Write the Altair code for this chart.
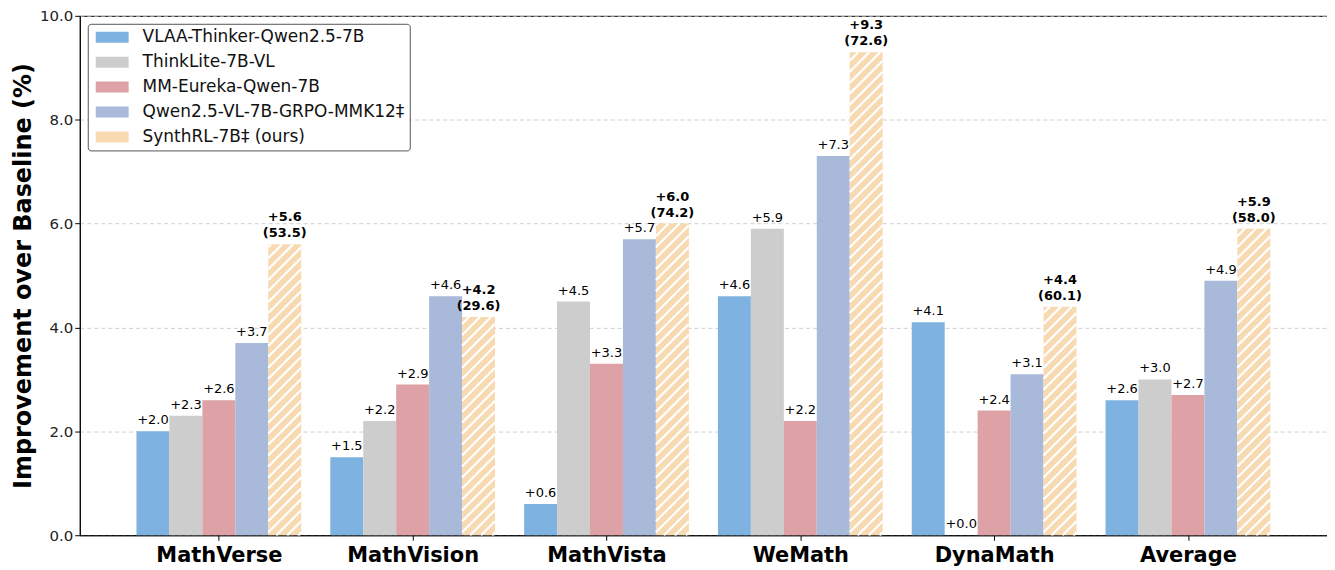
import json
import altair as alt
import pandas as pd

categories = ["MathVerse", "MathVision", "MathVista", "WeMath", "DynaMath", "Average"]
models = [
    "VLAA-Thinker-Qwen2.5-7B",
    "ThinkLite-7B-VL",
    "MM-Eureka-Qwen-7B",
    "Qwen2.5-VL-7B-GRPO-MMK12‡",
    "SynthRL-7B‡ (ours)",
]
vlaa = [2.0, 1.5, 0.6, 4.6, 4.1, 2.6]
thinklite = [2.3, 2.2, 4.5, 5.9, 0.0, 3.0]
eureka = [2.6, 2.9, 3.3, 2.2, 2.4, 2.7]
grpo = [3.7, 4.6, 5.7, 7.3, 3.1, 4.9]
synthrl = [5.6, 4.2, 6.0, 9.3, 4.4, 5.9]
synthrl_rel = [53.5, 29.6, 74.2, 72.6, 60.1, 58.0]
colors = ["#7eb3e1", "#cdcdcd", "#dea1a5", "#a8b9d9", "#f8dab2"]

series = [vlaa, thinklite, eureka, grpo, synthrl]
rows = []
for mj, (m, vals) in enumerate(zip(models, series)):
    for ci, c in enumerate(categories):
        rows.append({
            "cat": c, "ci": ci, "model": m, "mj": mj, "value": vals[ci],
            "rel": synthrl_rel[ci] if mj == 4 else None,
        })
df = pd.DataFrame(rows)

W, H = 1251, 521
BW = 0.17
XMIN, XMAX = -0.7175, 5.7175
SX = W / (XMAX - XMIN)   # px per x unit
SY = H / 10.0            # px per y unit
PERIOD = 11.0            # hatch spacing (px, horizontal)

xscale = alt.Scale(domain=[XMIN, XMAX], nice=False, zero=False)
yscale = alt.Scale(domain=[0, 10], nice=False)

base = alt.Chart(df).transform_calculate(
    xc=f"datum.ci + (datum.mj - 2) * {BW}",
    x0=f"datum.ci + (datum.mj - 2) * {BW} - {BW/2}",
    x1=f"datum.ci + (datum.mj - 2) * {BW} + {BW/2}",
    lab="'+' + format(datum.value, '.1f')",
    rlab="'(' + format(datum.rel, '.1f') + ')'",
)

label_expr = f"{json.dumps(categories)}[datum.value]"

bars = base.mark_bar(strokeWidth=0).encode(
    x=alt.X("x0:Q", scale=xscale, axis=alt.Axis(
        title=None, values=[0, 1, 2, 3, 4, 5], labelExpr=label_expr, grid=False,
        labelFontSize=21, labelFontWeight="bold", labelColor="black",
        tickColor="black", tickSize=5, domainColor="black", labelPadding=4)),
    x2="x1:Q",
    y=alt.Y("value:Q", scale=yscale, axis=alt.Axis(
        title="Improvement over Baseline (%)", values=[0, 2, 4, 6, 8, 10], format=".1f",
        titleFontSize=24, titleFontWeight="bold", titleColor="black", titlePadding=4,
        labelFontSize=15, labelColor="#222", tickColor="black", tickSize=5, labelPadding=2,
        domainColor="black", grid=True, gridDash=[4, 3], gridColor="#c4c4c4", gridWidth=0.8)),
    y2=alt.datum(0),
    color=alt.Color("model:N", scale=alt.Scale(domain=models, range=colors), legend=alt.Legend(
        title=None, orient="top-left", offset=8, fillColor="white", strokeColor="#555",
        cornerRadius=3, padding=5, labelFontSize=17, labelColor="#111", rowPadding=7,
        symbolType="M-3,-1H3V1H-3Z", symbolSize=121, symbolStrokeWidth=0,
        symbolOpacity=1, symbolOffset=11, labelOffset=22, labelLimit=400)),
)

stripes = base.transform_filter("datum.mj == 4").transform_calculate(
    ks="sequence(0, 80)"
).transform_flatten(["ks"]).transform_calculate(
    wpx=f"{BW * SX}",
    hpx=f"datum.value * {SY}",
).transform_calculate(
    c=f"-datum.wpx + datum.ks * {PERIOD} + 3",
).transform_filter("datum.c < datum.hpx").transform_calculate(
    xa="max(0, -datum.c)",
    xb="min(datum.wpx, datum.hpx - datum.c)",
).transform_filter("datum.xb > datum.xa").transform_calculate(
    sx1=f"datum.x0 + datum.xa / {SX}",
    sy1=f"(datum.xa + datum.c) / {SY}",
    sx2=f"datum.x0 + datum.xb / {SX}",
    sy2=f"(datum.xb + datum.c) / {SY}",
).mark_rule(color="white", strokeWidth=2.2).encode(
    x=alt.X("sx1:Q", scale=xscale),
    y=alt.Y("sy1:Q", scale=yscale),
    x2="sx2:Q",
    y2="sy2:Q",
)

labels = base.transform_filter("datum.mj < 4").mark_text(
    fontSize=13, color="black", baseline="bottom", dy=-4
).encode(
    x=alt.X("xc:Q", scale=xscale),
    y=alt.Y("value:Q", scale=yscale),
    text="lab:N",
)

rel_labels = base.transform_filter("datum.mj == 4").mark_text(
    fontSize=13, fontWeight="bold", color="black", baseline="bottom", dy=-4
).encode(
    x=alt.X("xc:Q", scale=xscale),
    y=alt.Y("value:Q", scale=yscale),
    text="rlab:N",
)

top_labels = base.transform_filter("datum.mj == 4").mark_text(
    fontSize=13, fontWeight="bold", color="black", baseline="bottom", dy=-20
).encode(
    x=alt.X("xc:Q", scale=xscale),
    y=alt.Y("value:Q", scale=yscale),
    text="lab:N",
)

chart = alt.layer(bars, stripes, labels, rel_labels, top_labels).properties(
    width=W, height=H, padding={"left": 3, "top": 0, "right": 0, "bottom": 0}
).configure(font="DejaVu Sans").configure_view(stroke="black", strokeWidth=1)

chart.save("out.html", embed_options={"renderer": "svg", "actions": False})
